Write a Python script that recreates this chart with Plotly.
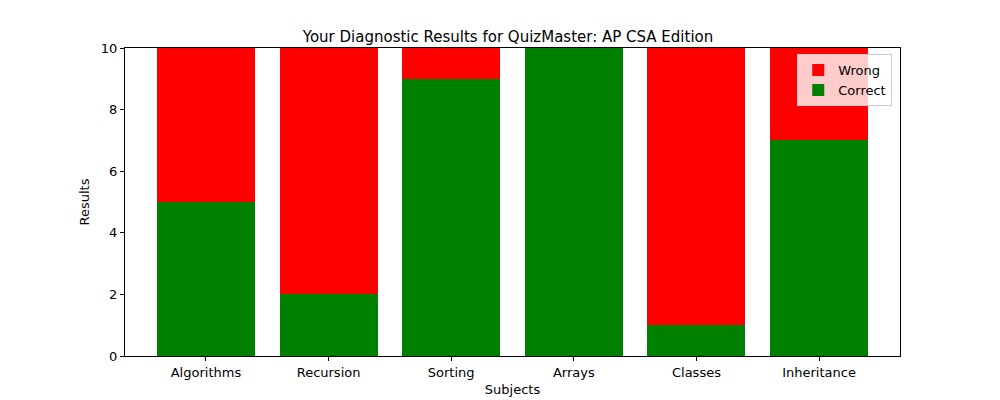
import plotly.graph_objects as go

subjects = ["Algorithms", "Recursion", "Sorting", "Arrays", "Classes", "Inheritance"]
correct = [5, 2, 9, 10, 1, 7]
wrong = [5, 8, 1, 0, 9, 3]
xs = list(range(len(subjects)))

fig = go.Figure()
fig.add_bar(x=xs, y=correct, name="Correct", marker_color="green", width=0.8, marker_line_width=0)
fig.add_bar(x=xs, y=wrong, name="Wrong", marker_color="red", width=0.8, marker_line_width=0)

axis_common = dict(showline=True, linecolor="black", linewidth=1, mirror=True, ticks="outside",
                   ticklen=4, tickcolor="black", showgrid=False, zeroline=False,
                   tickfont=dict(size=13, color="black"))
fig.update_layout(
    barmode="stack",
    width=1000, height=400,
    paper_bgcolor="white", plot_bgcolor="white",
    font=dict(family="DejaVu Sans", size=13, color="black"),
    title=dict(text="Your Diagnostic Results for QuizMaster: AP CSA Edition", x=0.5, xanchor="center",
               y=0.915, yanchor="bottom", font=dict(size=15)),
    margin=dict(l=117, r=108, t=40, b=52),
    xaxis=dict(tickvals=xs, ticktext=subjects, range=[-0.66, 5.66],
               title=dict(text="Subjects", standoff=6, font=dict(size=13)), **axis_common),
    yaxis=dict(range=[0, 10], dtick=2, title=dict(text="Results", standoff=8, font=dict(size=13)), **axis_common),
    legend=dict(x=0.99, y=0.98, xanchor="right", yanchor="top", traceorder="reversed",
                bordercolor="#cccccc", borderwidth=1, bgcolor="rgba(255,255,255,0.8)",
                font=dict(size=13)),
)
fig.write_html("out.html")
